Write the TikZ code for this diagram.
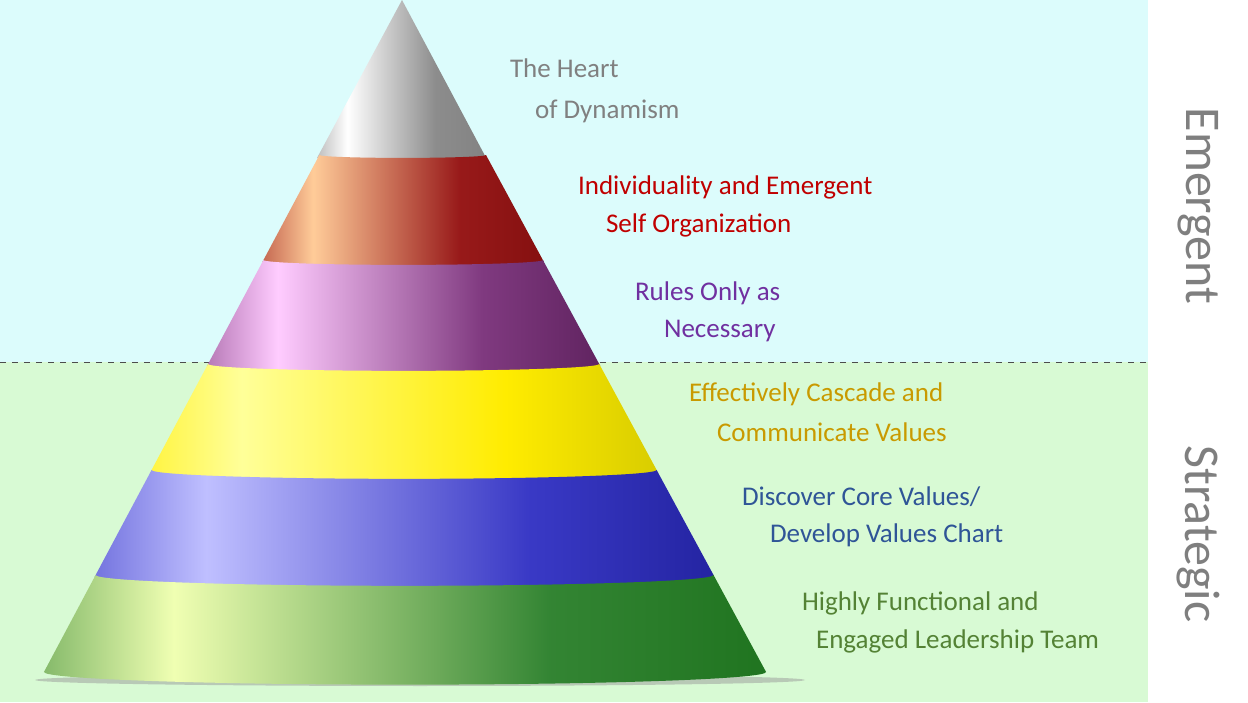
\documentclass[tikz,border=0pt]{standalone}
\usepackage{fontspec}
\setmainfont{Carlito}
\usetikzlibrary{shapes.geometric}
\definecolor{skybg}{HTML}{DCFCFC}
\definecolor{leafbg}{HTML}{D8FAD4}
\definecolor{sidegray}{HTML}{7F7F7F}
\definecolor{txtgray}{HTML}{808080}
\definecolor{txtred}{HTML}{C00000}
\definecolor{txtpurple}{HTML}{7030A0}
\definecolor{txtgold}{HTML}{C99A00}
\definecolor{txtblue}{HTML}{2F5597}
\definecolor{txtgreen}{HTML}{548235}
% band shadings: dark, highlight, darker
\newcommand{\bandshade}[4]{%
  \pgfdeclarehorizontalshading{#1}{100bp}{color(0bp)=(#2); color(18bp)=(#2); color(34bp)=(#3); color(60bp)=(#2); color(100bp)=(#4)}}
\bandshade{coneGray}{gray!90}{white}{black!55}
\bandshade{coneRed}{red!55!black!90}{orange!40!white}{red!40!black}
\bandshade{conePurple}{violet!55!gray}{magenta!20!white}{violet!35!black}
\bandshade{coneGold}{yellow!85!orange}{yellow!40!white}{yellow!60!black}
\bandshade{coneBlue}{blue!55!gray}{blue!25!white}{blue!40!black}
\bandshade{coneGreen}{green!40!black!80}{green!20!yellow!30!white}{green!35!black}
\tikzset{
  lbl/.style={anchor=west, font=\fontsize{13.5}{15}\selectfont},
  side/.style={font=\fontsize{25}{28}\selectfont, text=sidegray, rotate=-90}
}
\begin{document}
\begin{tikzpicture}[x=0.5pt, y=0.5pt]
  % backgrounds
  \fill[skybg] (0,702) rectangle (1148,340);
  \fill[leafbg] (0,340) rectangle (1148,0);
  \fill[white] (1148,0) rectangle (1248,702);
  \useasboundingbox (0,0) rectangle (1248,702);
  \draw[dashed, black!70, line width=0.4pt] (0,340) -- (1148,340);
  % shadow
  \fill[black!40, opacity=0.5] (420,22) ellipse[x radius=385, y radius=6];
  % cone tip
  \shade[shading=coneGray] (402,702) -- (486.2,544)
    arc[start angle=360, end angle=180, x radius=84.6, y radius=3] -- cycle;
  % cone bands
  \foreach \ya/\yb/\sh in {155/262/coneRed, 260/366/conePurple,
                          364/472/coneGold, 470/577/coneBlue, 575/672/coneGreen}{
    \pgfmathsetmacro\la{402-0.5328*\ya}
    \pgfmathsetmacro\ra{402+0.5418*\ya}
    \pgfmathsetmacro\lb{402-0.5328*\yb}
    \pgfmathsetmacro\rb{402+0.5418*\yb}
    \pgfmathsetmacro\rxa{(\ra-\la)/2}
    \pgfmathsetmacro\rxb{(\rb-\lb)/2}
    \pgfmathsetmacro\rya{\rxa*0.035}
    \pgfmathsetmacro\ryb{\rxb*0.035}
    \shade[shading=\sh] (\la,702-\ya) arc[start angle=180, end angle=360, x radius=\rxa, y radius=\rya]
      -- (\rb,702-\yb) arc[start angle=360, end angle=180, x radius=\rxb, y radius=\ryb] -- cycle;
  }
  % labels
  \node[lbl, text=txtgray] (heartA) at (503,634) {The Heart};
  \node[lbl, text=txtgray] (heartB) at (528,591) {of Dynamism};
  \node[lbl, text=txtred] (indivA) at (571,515) {Individuality and Emergent};
  \node[lbl, text=txtred] (indivB) at (599,477) {Self Organization};
  \node[lbl, text=txtpurple] (rulesA) at (628,409) {Rules Only as};
  \node[lbl, text=txtpurple] (rulesB) at (657,371) {Necessary};
  \node[lbl, text=txtgold] (cascA) at (682,308) {Effectively Cascade and};
  \node[lbl, text=txtgold] (cascB) at (710,270) {Communicate Values};
  \node[lbl, text=txtblue] (coreA) at (735,205) {Discover Core Values/};
  \node[lbl, text=txtblue] (coreB) at (763,167) {Develop Values Chart};
  \node[lbl, text=txtgreen] (teamA) at (795,99) {Highly Functional and};
  \node[lbl, text=txtgreen] (teamB) at (809,61) {Engaged Leadership Team};
  % side titles
  \node[side] (emergent) at (1198,496) {Emergent};
  \node[side] (strategic) at (1198,168) {Strategic};
\end{tikzpicture}
\end{document}
